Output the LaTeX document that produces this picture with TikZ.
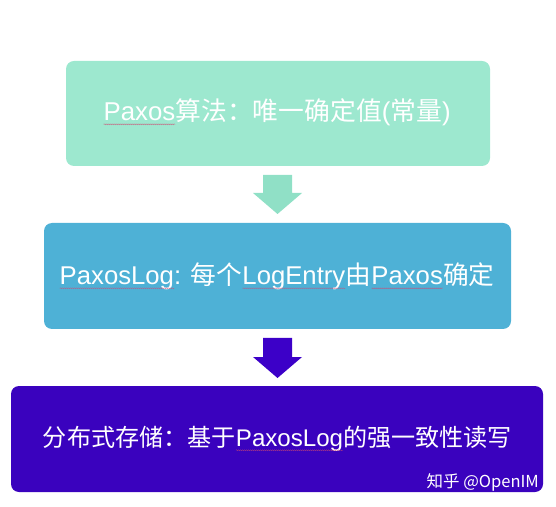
\documentclass[tikz,border=0pt]{standalone}
\usepackage{fontspec}
\setmainfont{Liberation Sans}
\newfontfamily\cjk{Noto Sans CJK SC}
\usetikzlibrary{decorations.pathmorphing}
\definecolor{mintbox}{HTML}{9DE8CF}
\definecolor{mintarrow}{HTML}{90E0C6}
\definecolor{bluebox}{HTML}{4EB1D6}
\definecolor{purplebox}{HTML}{3A02BE}
\definecolor{purplearrow}{HTML}{3C00C8}
\definecolor{squigred}{HTML}{D04870}
\tikzset{
  stepbox/.style={rounded corners=8pt, inner sep=0pt},
  boxtext/.style={anchor=base, inner sep=0pt, text=white},
  squig/.style={draw=squigred, draw opacity=0.75, line width=0.4pt, decorate,
    decoration={snake, amplitude=0.5pt, segment length=2pt}},
}
\newcommand\wav[1]{\tikz[baseline=(w.base), x=1pt, y=1pt]{%
  \node[inner sep=0pt, outer sep=0pt, text=white] (w) {#1};
  \path[squig] ([yshift=-3.5pt]w.base west) -- ([yshift=-3.5pt]w.base east);}}
\begin{document}
\begin{tikzpicture}[x=1pt, y=1pt]
\useasboundingbox (0,0) rectangle (556,506);
% boxes
\node[stepbox, fill=mintbox, minimum width=424pt, minimum height=105pt] (b1) at (278,392.5) {};
\node[stepbox, fill=bluebox, minimum width=467pt, minimum height=106pt] (b2) at (277.5,230) {};
\node[stepbox, fill=purplebox, minimum width=532pt, minimum height=106pt] (b3) at (277,67) {};
% texts
\node[boxtext, font=\fontsize{25.8}{30}\selectfont] (t1) at (277,385.2)
  {\wav{Paxos}{\cjk 算法：唯一确定值}({\cjk 常量})};
\node[boxtext, font=\fontsize{25.7}{30}\selectfont] (t2) at (277,221.2)
  {\wav{PaxosLog}: {\cjk 每个}\wav{LogEntry}{\cjk 由}\wav{Paxos}{\cjk 确定}};
\node[boxtext, font=\fontsize{24.1}{28}\selectfont] (t3) at (277.5,59.3)
  {{\cjk 分布式存储：基于}\wav{PaxosLog}{\cjk 的强一致性读写}};
\node[anchor=base east, inner sep=0pt, text=white, font=\cjk\fontsize{16.5}{20}\selectfont] (wm) at (539,18.2)
  {知乎 @OpenIM};
% block arrows
\coordinate (a1) at (277.5,331);
\coordinate (a2) at (277.5,168);
\fill[mintarrow] (a1) ++(-14.5,0) -- ++(0,-18) -- ++(-10,0) -- ++(24.5,-21) -- ++(24.5,21) -- ++(-10,0) -- ++(0,18) -- cycle;
\fill[purplearrow] (a2) ++(-14.5,0) -- ++(0,-19) -- ++(-10,0) -- ++(24.5,-21) -- ++(24.5,21) -- ++(-10,0) -- ++(0,19) -- cycle;
\end{tikzpicture}
\end{document}
